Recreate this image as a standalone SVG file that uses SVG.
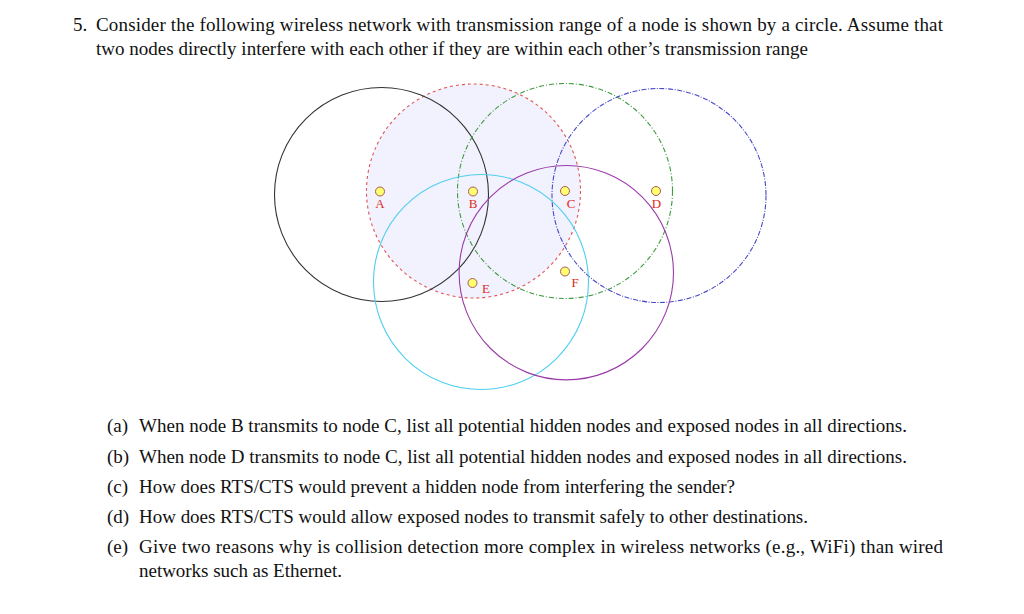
<svg xmlns="http://www.w3.org/2000/svg" width="1024" height="614" viewBox="0 0 1024 614">
<style>
.t{font-family:"Liberation Serif","Times New Roman",serif;font-size:19px;fill:#111}
.lbl{font-family:"Liberation Serif","Times New Roman",serif;font-size:13px;fill:#dd2a1a;text-anchor:middle}
.rng{fill:none;stroke-width:1.1}
.dot{fill:#ffff70;stroke:#a85a5a;stroke-width:1}
</style>
<rect width="1024" height="614" fill="#ffffff"/>
<g id="heading">
<text class="t" x="73" y="31">5.</text>
<text class="t" x="96" y="31" textLength="847" lengthAdjust="spacing">Consider the following wireless network with transmission range of a node is shown by a circle.  Assume that</text>
<text class="t" x="96" y="55" textLength="712" lengthAdjust="spacing">two nodes directly interfere with each other if they are within each other’s transmission range</text>
</g>
<g id="ranges">
<circle id="rangeB" cx="473.5" cy="191" r="107" fill="#f2f2fe" stroke="#e05555" stroke-width="1.1" stroke-dasharray="3,3"/>
<circle id="rangeA" class="rng" cx="381.5" cy="194.5" r="107" stroke="#333333"/>
<circle id="rangeC" class="rng" cx="565" cy="191" r="107.5" stroke="#3e9a3e" stroke-dasharray="5,2,1,2"/>
<circle id="rangeD" class="rng" cx="659" cy="195.5" r="107" stroke="#4848c8" stroke-dasharray="5,1.5,1,1.5"/>
<circle id="rangeE" class="rng" cx="481" cy="282" r="107.5" stroke="#4fcfef"/>
<circle id="rangeF" class="rng" cx="566.3" cy="272.7" r="107.2" stroke="#9a3aa8"/>
</g>
<g id="nodeA"><circle class="dot" cx="380" cy="191.5" r="4.5"/><text class="lbl" x="380" y="208">A</text></g>
<g id="nodeB"><circle class="dot" cx="473" cy="191.5" r="4.5"/><text class="lbl" x="473" y="208">B</text></g>
<g id="nodeC"><circle class="dot" cx="565" cy="191" r="4.5"/><text class="lbl" x="571" y="208">C</text></g>
<g id="nodeD"><circle class="dot" cx="656" cy="191" r="4.5"/><text class="lbl" x="656.5" y="208">D</text></g>
<g id="nodeE"><circle class="dot" cx="472.5" cy="283" r="4.5"/><text class="lbl" x="486" y="293">E</text></g>
<g id="nodeF"><circle class="dot" cx="565" cy="271.5" r="4.5"/><text class="lbl" x="575" y="287">F</text></g>
<g id="questions">
<text class="t" x="107" y="432">(a)</text>
<text class="t" x="139" y="432" textLength="768" lengthAdjust="spacing">When node B transmits to node C, list all potential hidden nodes and exposed nodes in all directions.</text>
<text class="t" x="107" y="463">(b)</text>
<text class="t" x="139" y="463" textLength="768" lengthAdjust="spacing">When node D transmits to node C, list all potential hidden nodes and exposed nodes in all directions.</text>
<text class="t" x="107" y="493">(c)</text>
<text class="t" x="139" y="493" textLength="596" lengthAdjust="spacing">How does RTS/CTS would prevent a hidden node from interfering the sender?</text>
<text class="t" x="107" y="523">(d)</text>
<text class="t" x="139" y="523" textLength="669" lengthAdjust="spacing">How does RTS/CTS would allow exposed nodes to transmit safely to other destinations.</text>
<text class="t" x="107" y="553">(e)</text>
<text class="t" x="139" y="553" textLength="804" lengthAdjust="spacing">Give two reasons why is collision detection more complex in wireless networks (e.g., WiFi) than wired</text>
<text class="t" x="139" y="577" textLength="203" lengthAdjust="spacing">networks such as Ethernet.</text>
</g>
</svg>
